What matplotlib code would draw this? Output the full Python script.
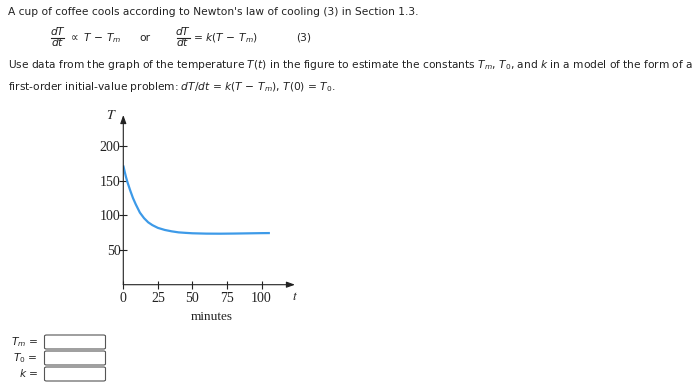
import numpy as np
import matplotlib.pyplot as plt
from matplotlib.patches import FancyBboxPatch
from matplotlib.lines import Line2D

plt.rcParams['mathtext.fontset'] = 'dejavusans'

W, H = 698, 390

# temperature curve (t in minutes, T in degrees)
t_min = [0, 1, 2, 3, 5, 7, 9, 12, 15, 18, 21, 25, 30, 35, 40, 45, 50, 60, 70, 80, 90, 100, 106]
temp = [172, 163, 155, 148, 136, 125, 116, 104, 96, 90, 86, 82, 79, 77, 75.5, 74.8, 74.2, 73.7, 73.6, 73.8, 74.1, 74.4, 74.5]

xticks = [0, 25, 50, 75, 100]
yticks = [50, 100, 150, 200]

fig = plt.figure(figsize=(W / 100, H / 100), dpi=100)


def fx(x):
    return x / W


def fy(y):
    return 1 - y / H


txt = dict(fontsize=7.65, color='#222222')

fig.text(fx(8), fy(15), "A cup of coffee cools according to Newton's law of cooling (3) in Section 1.3.",
         va='baseline', **txt)

# formula line
fig.text(fx(57.5), fy(35), '$dT$', ha='center', va='baseline', **txt)
fig.text(fx(57.5), fy(46), '$dt$', ha='center', va='baseline', **txt)
fig.add_artist(Line2D([fx(51), fx(64)], [fy(38), fy(38)], color='#222222', lw=0.8))
fig.text(fx(68), fy(41), r'$\propto\ T\,-\,T_m$', va='baseline', **txt)
fig.text(fx(139), fy(41), 'or', va='baseline', **txt)
fig.text(fx(183), fy(35), '$dT$', ha='center', va='baseline', **txt)
fig.text(fx(183), fy(46), '$dt$', ha='center', va='baseline', **txt)
fig.add_artist(Line2D([fx(176.5), fx(189.5)], [fy(38), fy(38)], color='#222222', lw=0.8))
fig.text(fx(193), fy(41), r'= $k(T\,-\,T_m)$', va='baseline', **txt)
fig.text(fx(296), fy(41), '(3)', va='baseline', **txt)

fig.text(fx(8), fy(68.5),
         'Use data from the graph of the temperature $T(t)$ in the figure to estimate the constants '
         '$T_m$, $T_0$, and $k$ in a model of the form of a',
         va='baseline', **txt)
fig.text(fx(8), fy(89.5),
         r'first-order initial-value problem: $dT/dt$ = $k(T\,-\,T_m)$, $T(0)$ = $T_0$.',
         va='baseline', **txt)

# chart
x0, y0 = 123.3, 284.7
x1, y1 = 295, 115
ax = fig.add_axes([fx(x0), fy(y0), (x1 - x0) / W, (y0 - y1) / H])
ax.set_xlim(0, (x1 - x0) / 1.383)
ax.set_ylim(0, (y0 - y1) / 0.693)
ax.patch.set_alpha(0)
for s in ax.spines.values():
    s.set_visible(False)

ax.plot(t_min, temp, color='#3d9ae8', lw=1.6, solid_capstyle='butt')

ax.annotate('', xy=(1, 0), xytext=(0, 0), xycoords='axes fraction',
            arrowprops=dict(arrowstyle='-|>,head_length=0.5,head_width=0.18', color='#222222', lw=0.8,
                            shrinkA=0, shrinkB=0), annotation_clip=False)
ax.annotate('', xy=(0, 1), xytext=(0, 0), xycoords='axes fraction',
            arrowprops=dict(arrowstyle='-|>,head_length=0.5,head_width=0.18', color='#222222', lw=0.8,
                            shrinkA=0, shrinkB=0), annotation_clip=False)

ax.set_xticks(xticks)
ax.set_yticks(yticks)
ax.tick_params(direction='inout', length=6, width=0.8, color='#222222',
               labelsize=10, labelcolor='#222222')
ax.tick_params(axis='x', pad=2)
ax.tick_params(axis='y', pad=-1)
for lab in ax.get_xticklabels() + ax.get_yticklabels():
    lab.set_family('Liberation Serif')

ax.text(64, -46, 'minutes', ha='center', va='center', family='Liberation Serif',
        fontsize=9.5, color='#222222')
ax.text(1.0, -0.07, '$t$', transform=ax.transAxes, ha='center', va='center',
        fontsize=9.5, color='#222222', math_fontfamily='stix')
ax.text(-0.07, 1.0, '$T$', transform=ax.transAxes, ha='center', va='center',
        fontsize=10, color='#222222', math_fontfamily='stix')

# answer boxes
rows = [('$T_m$ =', 335), ('$T_0$ =', 351), ('$k$ =', 367)]
for label, top in rows:
    fig.text(fx(38), fy(top + 10), label, ha='right', va='baseline', **txt)
    box = FancyBboxPatch((fx(44.5), fy(top + 14)), (105.5 - 44.5) / W, 14 / H,
                         boxstyle='round,pad=0,rounding_size=0.003',
                         transform=fig.transFigure, fc='white', ec='#555555', lw=0.8)
    fig.add_artist(box)

fig.savefig('out.png', dpi=100)
